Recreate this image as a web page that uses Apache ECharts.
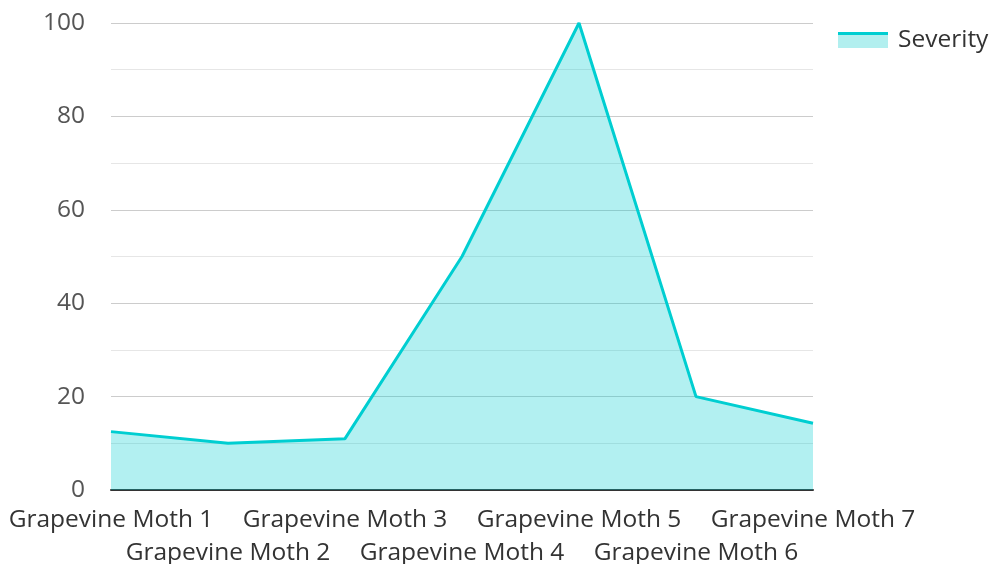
<!DOCTYPE html>
<html>
<head>
<meta charset="utf-8">
<script src="https://cdn.jsdelivr.net/npm/echarts@6/dist/echarts.min.js"></script>
<style>html,body{margin:0;padding:0;background:#fff}#c{width:992px;height:564px}</style>
</head>
<body>
<div id="c"></div>
<script>
const categories = ['Grapevine Moth 1','Grapevine Moth 2','Grapevine Moth 3','Grapevine Moth 4','Grapevine Moth 5','Grapevine Moth 6','Grapevine Moth 7'];
const severity = [12.5, 10, 11, 50, 100, 20, 14.3];
const seriesName = 'Severity';

const chart = echarts.init(document.getElementById('c'));
const font = '"Open Sans", sans-serif';
const fs = 24.5;
chart.setOption({
  animation: false,
  textStyle: { fontFamily: font },
  grid: { left: 111, right: 179, top: 23, bottom: 74, containLabel: false, outerBoundsMode: 'none' },
  legend: {
    data: [{ name: seriesName, icon: 'rect' }],
    left: 838, top: 28, padding: 0,
    itemWidth: 50, itemHeight: 15, itemGap: 10,
    itemStyle: { color: '#b2efef', borderWidth: 0 },
    textStyle: { fontSize: fs, color: '#333', fontFamily: font, padding: [0, 0, 6, 5] }
  },
  graphic: [{
    type: 'rect', left: 838, top: 32, z: 100, silent: true,
    shape: { width: 50, height: 3 },
    style: { fill: '#00CED1' }
  }],
  xAxis: {
    type: 'category', data: categories, boundaryGap: false,
    axisLine: { lineStyle: { color: '#333', width: 2 } },
    axisTick: { show: false },
    axisLabel: {
      interval: 0, hideOverlap: false, fontSize: fs, color: '#333', margin: 14, lineHeight: 33,
      fontFamily: font,
      formatter: (v, i) => (i % 2 === 1 ? '\n' + v : v)
    },
    splitLine: { show: false }
  },
  yAxis: {
    type: 'value', min: 0, max: 100, interval: 20,
    axisLine: { show: false }, axisTick: { show: false },
    axisLabel: { fontSize: fs, color: '#555', margin: 26, fontFamily: font },
    splitLine: { lineStyle: { color: '#cccccc', width: 1 } },
    minorTick: { show: false, splitNumber: 2 },
    minorSplitLine: { show: true, lineStyle: { color: '#e6e6e6', width: 1 } }
  },
  series: [{
    name: seriesName, type: 'line', data: severity,
    showSymbol: false, symbol: 'none',
    lineStyle: { color: '#00CED1', width: 3 },
    itemStyle: { color: '#00CED1' },
    areaStyle: { color: '#00CED1', opacity: 0.3 }
  }]
});
</script>
</body>
</html>
